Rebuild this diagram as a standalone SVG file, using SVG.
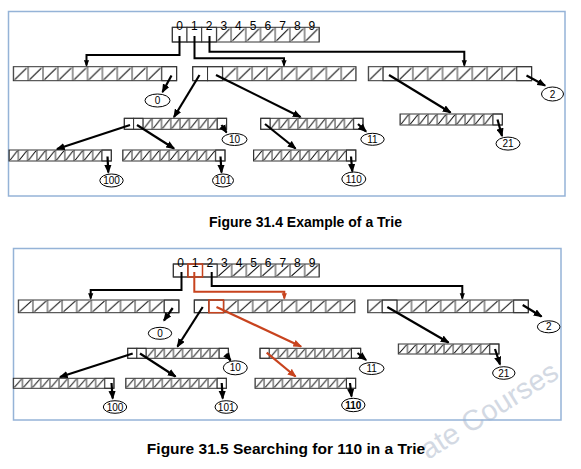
<svg xmlns="http://www.w3.org/2000/svg" width="581" height="469" viewBox="0 0 581 469">
<style>
.e{fill:#fff;stroke:#333;stroke-width:1}
.o{fill:none;stroke:#333;stroke-width:1}
.rd{fill:none;stroke:#C8431E;stroke-width:1.5}
.c{fill:none;stroke:#000;stroke-width:2.2;marker-end:url(#ah)}
.ce{fill:none;stroke:#000;stroke-width:2;marker-end:url(#ahs)}
.cr{fill:none;stroke:#C8431E;stroke-width:2.2;marker-end:url(#ahr)}
.cer{fill:none;stroke:#C8431E;stroke-width:2;marker-end:url(#ahsr)}
.leaf ellipse{fill:#fff;stroke:#000;stroke-width:1}
.leaf text{font-family:"Liberation Sans",Arial,sans-serif;font-size:10px;text-anchor:middle}
.dig{font-family:"Liberation Sans",Arial,sans-serif;font-size:12px;text-anchor:middle}
.cap{font-family:"Liberation Sans",Arial,sans-serif;font-size:15.5px;font-weight:bold;text-anchor:middle}
.frame{fill:none;stroke:#95B3D7;stroke-width:1.5}
</style>
<defs>
<marker id="ah" markerUnits="userSpaceOnUse" viewBox="0 0 10 8" markerWidth="9" markerHeight="7.5" refX="8.5" refY="4" orient="auto"><path d="M0,0 L10,4 L0,8 z" fill="#000"/></marker>
<marker id="ahr" markerUnits="userSpaceOnUse" viewBox="0 0 10 8" markerWidth="9" markerHeight="7.5" refX="8.5" refY="4" orient="auto"><path d="M0,0 L10,4 L0,8 z" fill="#C8431E"/></marker>
<marker id="ahs" markerUnits="userSpaceOnUse" viewBox="0 0 10 8" markerWidth="6.5" markerHeight="6" refX="8" refY="4" orient="auto"><path d="M0,0 L10,4 L0,8 z" fill="#000"/></marker>
<marker id="ahsr" markerUnits="userSpaceOnUse" viewBox="0 0 10 8" markerWidth="6.5" markerHeight="6" refX="8" refY="4" orient="auto"><path d="M0,0 L10,4 L0,8 z" fill="#C8431E"/></marker>
<pattern id="pT1" patternUnits="userSpaceOnUse" width="14.7" height="14.7"><rect width="14.7" height="14.7" fill="#fff"/><rect width="0.5" height="14.7" fill="#333"/><rect x="14.2" width="0.5" height="14.7" fill="#333"/><path d="M1.5,13.4 L13.2,1.5" stroke="#000" stroke-width="1"/></pattern>
<pattern id="pL1" patternUnits="userSpaceOnUse" width="14.85" height="14"><rect width="14.85" height="14" fill="#fff"/><rect width="0.5" height="14" fill="#333"/><rect x="14.35" width="0.5" height="14" fill="#333"/><path d="M1.5,12.8 L13.3,1.3" stroke="#000" stroke-width="1"/></pattern>
<pattern id="pS1" patternUnits="userSpaceOnUse" width="9.3" height="11"><rect width="9.3" height="11" fill="#fff"/><rect width="0.5" height="11" fill="#333"/><rect x="8.8" width="0.5" height="11" fill="#333"/><path d="M1.2,10 L8.2,1" stroke="#000" stroke-width="1"/></pattern>
<pattern id="pT2" patternUnits="userSpaceOnUse" width="14.6" height="13"><rect width="14.6" height="13" fill="#fff"/><rect width="0.5" height="13" fill="#333"/><rect x="14.1" width="0.5" height="13" fill="#333"/><path d="M1.5,11.8 L13.1,1.3" stroke="#000" stroke-width="1"/></pattern>
<pattern id="pL2" patternUnits="userSpaceOnUse" width="14.6" height="12.7"><rect width="14.6" height="12.7" fill="#fff"/><rect width="0.5" height="12.7" fill="#333"/><rect x="14.1" width="0.5" height="12.7" fill="#333"/><path d="M1.5,11.5 L13.1,1.2" stroke="#000" stroke-width="1"/></pattern>
<pattern id="pS2" patternUnits="userSpaceOnUse" width="9.15" height="10"><rect width="9.15" height="10" fill="#fff"/><rect width="0.5" height="10" fill="#333"/><rect x="8.65" width="0.5" height="10" fill="#333"/><path d="M1.2,9 L8,1" stroke="#000" stroke-width="1"/></pattern>
</defs>
<rect width="581" height="469" fill="#fff"/>

<!-- watermark -->
<text x="428" y="460" transform="rotate(-32 428 460)" font-family="Liberation Sans, Arial, sans-serif" font-size="29" fill="#d3d9e3">ate Courses</text>

<!-- ===== Figure 31.4 ===== -->
<rect class="frame" x="8.5" y="11.5" width="556.5" height="184.5"/>

<g id="f1-root" transform="translate(172.3,27.3)">
<rect width="147" height="14.7" fill="url(#pT1)"/>
<rect class="e" x="0" width="14.7" height="14.7"/><rect class="e" x="14.7" width="14.7" height="14.7"/><rect class="e" x="29.4" width="14.7" height="14.7"/>
<rect class="o" width="147" height="14.7"/>
<text class="dig" y="2.7"><tspan x="7.35">0</tspan><tspan x="22.05">1</tspan><tspan x="36.75">2</tspan><tspan x="51.45">3</tspan><tspan x="66.15">4</tspan><tspan x="80.85">5</tspan><tspan x="95.55">6</tspan><tspan x="110.25">7</tspan><tspan x="124.95">8</tspan><tspan x="139.65">9</tspan></text>
</g>

<g id="f1-n0" transform="translate(13.3,66.7)">
<rect width="163.35" height="14" fill="url(#pL1)"/>
<rect class="e" x="148.5" width="14.85" height="14"/>
<rect class="o" width="163.35" height="14"/>
</g>
<g id="f1-n1" transform="translate(192.7,66.7)">
<rect width="163.35" height="14" fill="url(#pL1)"/>
<rect class="e" x="0" width="14.85" height="14"/><rect class="e" x="14.85" width="14.85" height="14"/>
<rect class="o" width="163.35" height="14"/>
</g>
<g id="f1-n2" transform="translate(368.3,66.7)">
<rect width="163.35" height="14" fill="url(#pL1)"/>
<rect class="e" x="14.85" width="14.85" height="14"/><rect class="e" x="148.5" width="14.85" height="14"/>
<rect class="o" width="163.35" height="14"/>
</g>
<g id="f1-n10" transform="translate(124.3,118.3)">
<rect width="102.3" height="11" fill="url(#pS1)"/>
<rect class="e" x="0" width="9.3" height="11"/><rect class="e" x="9.3" width="9.3" height="11"/><rect class="e" x="93" width="9.3" height="11"/>
<rect class="o" width="102.3" height="11"/>
</g>
<g id="f1-n11" transform="translate(260.7,118.3)">
<rect width="102.3" height="11" fill="url(#pS1)"/>
<rect class="e" x="0" width="9.3" height="11"/><rect class="e" x="93" width="9.3" height="11"/>
<rect class="o" width="102.3" height="11"/>
</g>
<g id="f1-n21" transform="translate(400,114)">
<rect width="102.3" height="11" fill="url(#pS1)"/>
<rect class="e" x="93" width="9.3" height="11"/>
<rect class="o" width="102.3" height="11"/>
</g>
<g id="f1-n100" transform="translate(9,150)">
<rect width="102.3" height="11" fill="url(#pS1)"/>
<rect class="e" x="93" width="9.3" height="11"/>
<rect class="o" width="102.3" height="11"/>
</g>
<g id="f1-n101" transform="translate(122.7,150)">
<rect width="102.3" height="11" fill="url(#pS1)"/>
<rect class="e" x="93" width="9.3" height="11"/>
<rect class="o" width="102.3" height="11"/>
</g>
<g id="f1-n110" transform="translate(253.5,150)">
<rect width="102.3" height="11" fill="url(#pS1)"/>
<rect class="e" x="93" width="9.3" height="11"/>
<rect class="o" width="102.3" height="11"/>
</g>

<g id="f1-k0" class="leaf"><ellipse cx="157.5" cy="100.5" rx="12.5" ry="6.5"/><text x="157.5" y="104">0</text></g>
<g id="f1-k2" class="leaf"><ellipse cx="552.5" cy="94" rx="11" ry="7"/><text x="552.5" y="97.5">2</text></g>
<g id="f1-k10" class="leaf"><ellipse cx="234.5" cy="139.5" rx="12.5" ry="6"/><text x="234.5" y="143">10</text></g>
<g id="f1-k11" class="leaf"><ellipse cx="372.5" cy="139.3" rx="11.7" ry="6"/><text x="372.5" y="142.8">11</text></g>
<g id="f1-k21" class="leaf"><ellipse cx="508" cy="143.6" rx="12" ry="6.5"/><text x="508" y="147.1">21</text></g>
<g id="f1-k100" class="leaf"><ellipse cx="111.5" cy="180.5" rx="11.7" ry="6.5"/><text x="111.5" y="184">100</text></g>
<g id="f1-k101" class="leaf"><ellipse cx="223" cy="180.5" rx="10.5" ry="6.5"/><text x="223" y="184">101</text></g>
<g id="f1-k110" class="leaf"><ellipse cx="353.8" cy="179" rx="12" ry="7"/><text x="353.8" y="182.5">110</text></g>

<text class="cap" x="305.5" y="227" style="font-size:14px">Figure 31.4 Example of a Trie</text>

<!-- ===== Figure 31.5 ===== -->
<rect class="frame" x="13.5" y="248.5" width="547.5" height="171.5"/>

<g id="f2-root" transform="translate(173.3,264)">
<rect width="146" height="13" fill="url(#pT2)"/>
<rect class="e" x="0" width="14.6" height="13"/><rect class="e" x="14.6" width="14.6" height="13"/><rect class="e" x="29.2" width="14.6" height="13"/>
<rect class="o" width="146" height="13"/>
<rect class="rd" x="14.6" width="14.6" height="13"/>
<text class="dig" y="2.5"><tspan x="7.3">0</tspan><tspan x="21.9">1</tspan><tspan x="36.5">2</tspan><tspan x="51.1">3</tspan><tspan x="65.7">4</tspan><tspan x="80.3">5</tspan><tspan x="94.9">6</tspan><tspan x="109.5">7</tspan><tspan x="124.1">8</tspan><tspan x="138.7">9</tspan></text>
</g>

<g id="f2-n0" transform="translate(18.3,300)">
<rect width="160.6" height="12.7" fill="url(#pL2)"/>
<rect class="e" x="146" width="14.6" height="12.7"/>
<rect class="o" width="160.6" height="12.7"/>
</g>
<g id="f2-n1" transform="translate(194.3,300)">
<rect width="160.6" height="12.7" fill="url(#pL2)"/>
<rect class="e" x="0" width="14.6" height="12.7"/><rect class="e" x="14.6" width="14.6" height="12.7"/>
<rect class="o" width="160.6" height="12.7"/>
<rect class="rd" x="14.6" width="14.6" height="12.7"/>
</g>
<g id="f2-n2" transform="translate(367.7,300)">
<rect width="160.6" height="12.7" fill="url(#pL2)"/>
<rect class="e" x="14.6" width="14.6" height="12.7"/><rect class="e" x="146" width="14.6" height="12.7"/>
<rect class="o" width="160.6" height="12.7"/>
</g>
<g id="f2-n10" transform="translate(127.7,348.3)">
<rect width="100.65" height="10" fill="url(#pS2)"/>
<rect class="e" x="0" width="9.15" height="10"/><rect class="e" x="9.15" width="9.15" height="10"/><rect class="e" x="91.5" width="9.15" height="10"/>
<rect class="o" width="100.65" height="10"/>
</g>
<g id="f2-n11" transform="translate(260,348.3)">
<rect width="100.65" height="10" fill="url(#pS2)"/>
<rect class="e" x="0" width="9.15" height="10"/><rect class="e" x="91.5" width="9.15" height="10"/>
<rect class="o" width="100.65" height="10"/>
</g>
<g id="f2-n21" transform="translate(398.3,344)">
<rect width="100.65" height="10" fill="url(#pS2)"/>
<rect class="e" x="91.5" width="9.15" height="10"/>
<rect class="o" width="100.65" height="10"/>
</g>
<g id="f2-n100" transform="translate(13.3,378.3)">
<rect width="100.65" height="10" fill="url(#pS2)"/>
<rect class="e" x="91.5" width="9.15" height="10"/>
<rect class="o" width="100.65" height="10"/>
</g>
<g id="f2-n101" transform="translate(125.7,378.3)">
<rect width="100.65" height="10" fill="url(#pS2)"/>
<rect class="e" x="91.5" width="9.15" height="10"/>
<rect class="o" width="100.65" height="10"/>
</g>
<g id="f2-n110" transform="translate(255,378.3)">
<rect width="100.65" height="10" fill="url(#pS2)"/>
<rect class="e" x="91.5" width="9.15" height="10"/>
<rect class="o" width="100.65" height="10"/>
</g>

<g id="f2-k0" class="leaf"><ellipse cx="160" cy="333.3" rx="11.7" ry="6"/><text x="160" y="336.8">0</text></g>
<g id="f2-k2" class="leaf"><ellipse cx="548.7" cy="326.8" rx="11.3" ry="6"/><text x="548.7" y="330.3">2</text></g>
<g id="f2-k10" class="leaf"><ellipse cx="235.3" cy="367.8" rx="12" ry="7"/><text x="235.3" y="371.3">10</text></g>
<g id="f2-k11" class="leaf"><ellipse cx="371.7" cy="368.5" rx="12.3" ry="6"/><text x="371.7" y="372">11</text></g>
<g id="f2-k21" class="leaf"><ellipse cx="503.8" cy="373" rx="11.2" ry="6.3"/><text x="503.8" y="376.5">21</text></g>
<g id="f2-k100" class="leaf"><ellipse cx="115" cy="407" rx="11.7" ry="6.3"/><text x="115" y="410.5">100</text></g>
<g id="f2-k101" class="leaf"><ellipse cx="226.2" cy="407" rx="11.2" ry="6.3"/><text x="226.2" y="410.5">101</text></g>
<g id="f2-k110" class="leaf"><ellipse cx="353.3" cy="405" rx="11.7" ry="6.7"/><text x="353.3" y="408.5" font-weight="bold">110</text></g>

<text class="cap" x="286" y="454">Figure 31.5 Searching for 110 in a Trie</text>

<g id="connectors">
<g id="connectors-f1">
<path class="ce" d="M179.5,36 V55 H86.5 V65.5"/>
<path class="ce" d="M194.5,36 V58.3 H284 V65.5"/>
<path class="ce" d="M209.5,36 V51.7 H464.3 V65.5"/>
<path class="c" d="M171.5,75.5 L162.5,92"/>
<path class="c" d="M199.5,75 L174,117"/>
<path class="c" d="M216,75 L300.5,117"/>
<path class="c" d="M389,75 L450.5,112.5"/>
<path class="c" d="M526.5,75.5 L545,85.5"/>
<path class="c" d="M130,125 L57,149"/>
<path class="c" d="M137,125 L174,148.5"/>
<path class="c" d="M221.5,125 L226.5,132.5"/>
<path class="c" d="M265,124 L295.5,148.5"/>
<path class="c" d="M358,124 L366,131.5"/>
<path class="c" d="M497.5,119.5 L502,136"/>
<path class="c" d="M107.5,156.5 L108.3,172.5"/>
<path class="c" d="M220.5,156.5 L221.5,172.5"/>
<path class="c" d="M351,156.5 L352.3,171.5"/>
</g>
<g id="connectors-f2">
<path class="ce" d="M181.5,272 V290 H90.7 V298.5"/>
<path class="cer" d="M194.3,272 V291.7 H284.3 V298.5"/>
<path class="ce" d="M211.7,272 V286 H462.3 V298.5"/>
<path class="c" d="M172.7,308 L164,320.5"/>
<path class="c" d="M202.7,307 L177.5,346.5"/>
<path class="cr" d="M216.5,307 L301,346.5"/>
<path class="c" d="M387.3,307 L448.5,342.5"/>
<path class="c" d="M522.7,305 L541.5,316.5"/>
<path class="c" d="M132.7,353.5 L60,377"/>
<path class="c" d="M140,353.5 L175.5,376.5"/>
<path class="c" d="M226,354 L230.5,360.5"/>
<path class="cr" d="M266.7,352.7 L295.5,376.5"/>
<path class="c" d="M357.5,353 L366,360"/>
<path class="c" d="M495,349 L500,364.5"/>
<path class="c" d="M111.5,383 L112.7,398.5"/>
<path class="c" d="M221.7,383 L222.7,398.5"/>
<path class="c" d="M350,383 L351.5,396.5"/>
</g>
</g>
</svg>
